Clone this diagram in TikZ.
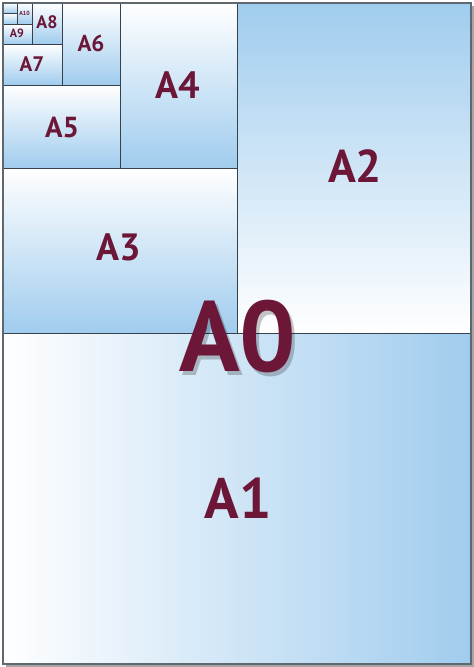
\documentclass[tikz,border=0pt]{standalone}
\usepackage{fontspec}
\setmainfont{PT Sans}
\definecolor{paperblue}{RGB}{160,204,238}
\definecolor{labelred}{RGB}{108,22,56}
\definecolor{edgegray}{RGB}{55,65,75}
\tikzset{
  sheet/.style={draw=edgegray, line width=0.9pt},
  down/.style={sheet, top color=white, bottom color=paperblue},
  up/.style={sheet, top color=paperblue, bottom color=white},
  lbl/.style={text=labelred, font=\bfseries, inner sep=0pt},
  shadowtxt/.style={text=black, font=\bfseries, inner sep=0pt, text opacity=0.22}
}
\newcommand{\fs}[1]{\fontsize{#1}{#1}\selectfont}
\begin{document}
\begin{tikzpicture}[x=1pt,y=-1pt]
\useasboundingbox (0,0) rectangle (474,667);
% page shadow
\fill[black!35] (6,6) rectangle (474,667);
% A1
\filldraw[sheet, left color=white, right color=paperblue] (3,333) rectangle (471,664);
% A2
\filldraw[up] (237,3) rectangle (471,333);
% A3
\filldraw[down] (3,168) rectangle (237,333);
% A4
\filldraw[down] (120,3) rectangle (237,168);
% A5
\filldraw[down] (3,85) rectangle (120,168);
% A6
\filldraw[down] (62,3) rectangle (120,85);
% A7
\filldraw[down] (3,44) rectangle (62,85);
% A8
\filldraw[down] (32,3) rectangle (62,44);
% A9
\filldraw[down] (3,24) rectangle (32,44);
% A10
\filldraw[down] (17,3) rectangle (32,24);
% smaller
\filldraw[down] (3,13) rectangle (17,24);
\filldraw[down] (3,3) rectangle (17,13);
% outer border
\draw[draw=edgegray!80, line width=1.4pt] (3,3) rectangle (471,664);
% labels
\node[lbl] (a1) at (238,498) {\fs{57}A1};
\node[lbl] (a2) at (355,166) {\fs{46}A2};
\node[lbl] (a3) at (119,247) {\fs{38}A3};
\node[lbl] (a4) at (178,85) {\fs{38}A4};
\node[lbl] (a5) at (62,127) {\fs{29}A5};
\node[lbl] (a6) at (91,43) {\fs{23}A6};
\node[lbl] (a7) at (32,64) {\fs{21}A7};
\node[lbl] (a8) at (47,22) {\fs{18}A8};
\node[lbl] (a9) at (17,33) {\fs{12}A9};
\node[lbl] (a10) at (24.5,13) {\fs{6}A10};
% A0 with soft shadow
\node[shadowtxt] (a0shadow) at (241,340) {\fs{100}A0};
\node[lbl] (a0) at (238,336) {\fs{100}A0};
\end{tikzpicture}
\end{document}
